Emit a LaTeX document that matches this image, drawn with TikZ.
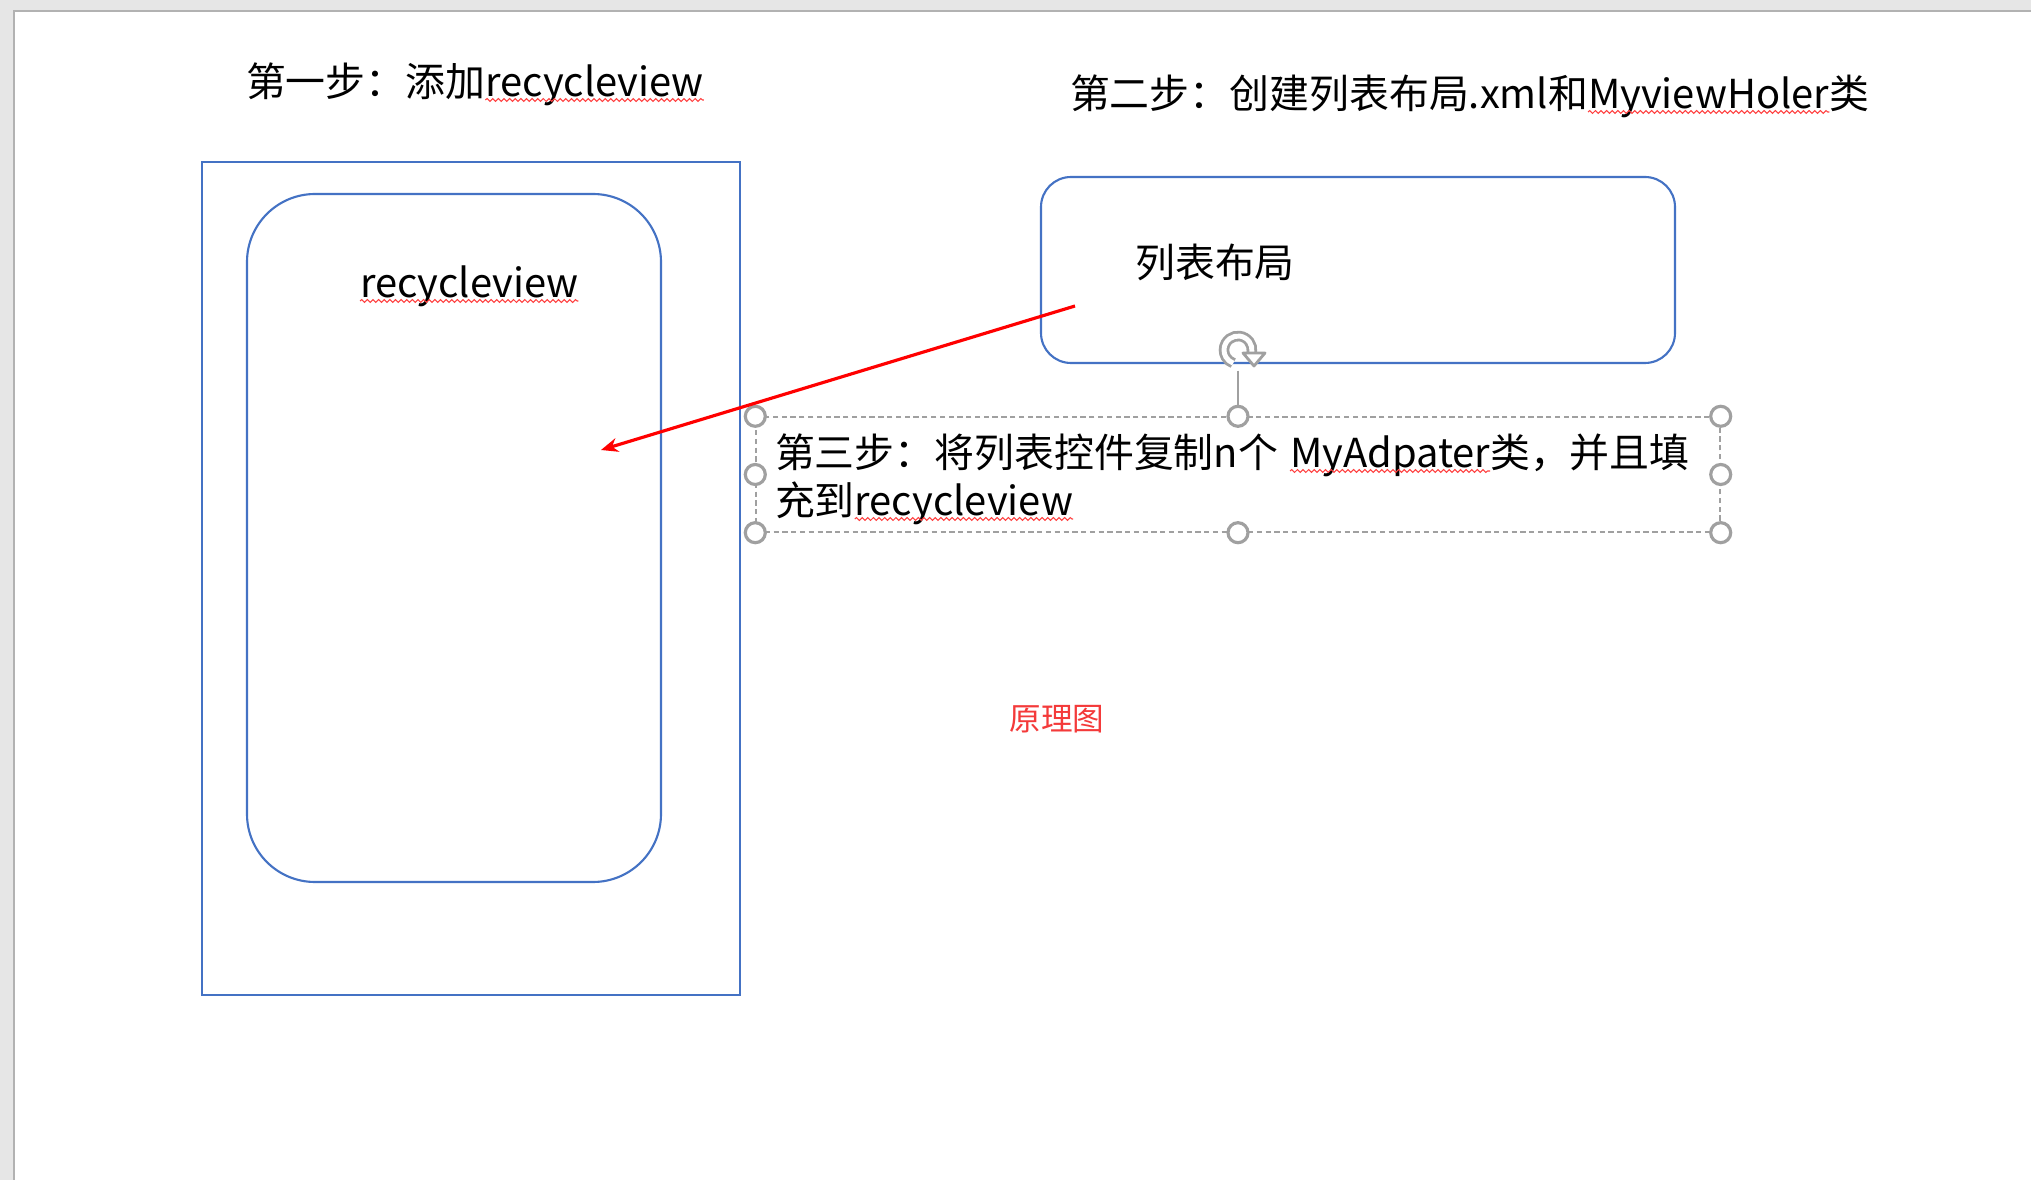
\documentclass[tikz,border=0pt]{standalone}
\usepackage{fontspec}
\setmainfont{Noto Sans CJK SC}
\usepackage{tikz}
\usetikzlibrary{arrows.meta,decorations.pathmorphing}
\definecolor{pagebg}{HTML}{E6E6E6}
\definecolor{boxblue}{HTML}{4472C4}
\definecolor{handlegray}{HTML}{A0A0A0}
\definecolor{notered}{HTML}{F43A3A}

\begin{document}
\begin{tikzpicture}[
  txt/.style={inner sep=0pt, outer sep=0pt, font=\fontsize{11.35pt}{14pt}\selectfont},
  squig/.style={red!75, line width=0.3pt, decorate,
    decoration={snake, amplitude=0.4pt, segment length=1.6pt}},
  handle/.style={circle, draw=handlegray, fill=white, line width=0.9pt,
    minimum size=0.2cm, inner sep=0pt},
]
  \useasboundingbox (0,0) rectangle (20.31,11.8);

  % window and page
  \fill[pagebg] (0,0) rectangle (20.31,11.8);
  \fill[white] (0.14,0) rectangle (20.31,11.69);
  \draw[gray!60, line width=0.4pt] (0.14,0) -- (0.14,11.69) -- (20.31,11.69);

  % Step 1: phone with recycleview
  \node[txt, anchor=base west] (s1a) at (2.46, 10.83) {第一步：添加};
  \node[txt, anchor=base west] (s1b) at (s1a.base east) {recycleview};
  \draw[squig] ([yshift=-0.03cm]s1b.base west) -- ([yshift=-0.03cm]s1b.base east);

  \node[draw=boxblue, line width=0.6pt, minimum width=5.38cm, minimum height=8.33cm,
    inner sep=0pt] (phone) at (4.71, 6.015) {};
  \node[draw=boxblue, line width=0.6pt, rounded corners=0.68cm, minimum width=4.14cm,
    minimum height=6.88cm, inner sep=0pt] (rview) at (4.54, 6.42) {};
  \node[txt, anchor=base west] (rvlabel) at (3.60, 8.82) {recycleview};
  \draw[squig] ([yshift=-0.03cm]rvlabel.base west) -- ([yshift=-0.03cm]rvlabel.base east);

  % Step 2: list layout
  \node[txt, anchor=base west] (s2a) at (10.70, 10.71) {第二步：创建列表布局.xml和};
  \node[txt, anchor=base west] (s2b) at (s2a.base east) {MyviewHoler};
  \node[txt, anchor=base west] (s2c) at (s2b.base east) {类};
  \draw[squig] ([yshift=-0.03cm]s2b.base west) -- ([yshift=-0.03cm]s2b.base east);

  \node[draw=boxblue, line width=0.6pt, rounded corners=0.3cm, minimum width=6.34cm,
    minimum height=1.86cm, inner sep=0pt] (layout) at (13.58, 9.10) {};
  \node[txt] (laylabel) at (12.15, 9.18) {列表布局};

  % Step 3: text box with its selection frame
  \node[draw=handlegray, line width=0.4pt, dash pattern=on 1.5pt off 1pt,
    minimum width=9.64cm, minimum height=1.15cm, inner sep=0pt] (sel) at (12.38, 7.055) {};
  \node[circle, minimum size=0.4cm, inner sep=0pt] (rot) at (12.38, 8.30) {};
  \draw[handlegray, line width=0.7pt] (rot.south) -- (sel.north);
  \draw[handlegray, line width=0.8pt, double=white, double distance=1.4pt]
    ([shift={(-30:0.14)}]rot.center) arc (-30:250:0.14);
  \draw[handlegray, fill=white, line width=0.8pt, line join=round]
    ([shift={(0.05,-0.03)}]rot.center) -- ++(0.22,0) -- ++(-0.11,-0.13) -- cycle;
  \foreach \a in {north west, north, north east, west, east, south west, south, south east}
    \node[handle] at (sel.\a) {};

  \node[txt, anchor=base west] (s3a) at (7.75, 7.12) {第三步：将列表控件复制n个};
  \node[txt, anchor=base west] (s3b) at ([xshift=0.12cm]s3a.base east) {MyAdpater};
  \node[txt, anchor=base west] (s3c) at (s3b.base east) {类，并且填};
  \draw[squig] ([yshift=-0.03cm]s3b.base west) -- ([yshift=-0.03cm]s3b.base east);
  \node[txt, anchor=base west] (s3d) at (7.75, 6.64) {充到};
  \node[txt, anchor=base west] (s3e) at (s3d.base east) {recycleview};
  \draw[squig] ([yshift=-0.03cm]s3e.base west) -- ([yshift=-0.03cm]s3e.base east);

  % arrow from the list layout into the recycleview
  \coordinate (from) at (10.75, 8.74);
  \coordinate (to) at (6.01, 7.30);
  \draw[red, line width=0.9pt, -{Stealth[length=0.17cm, width=0.14cm]}] (from) -- (to);

  % caption
  \node[txt, text=notered, font=\fontsize{9pt}{11pt}\selectfont] (caption) at (10.57, 4.61) {原理图};
\end{tikzpicture}
\end{document}
